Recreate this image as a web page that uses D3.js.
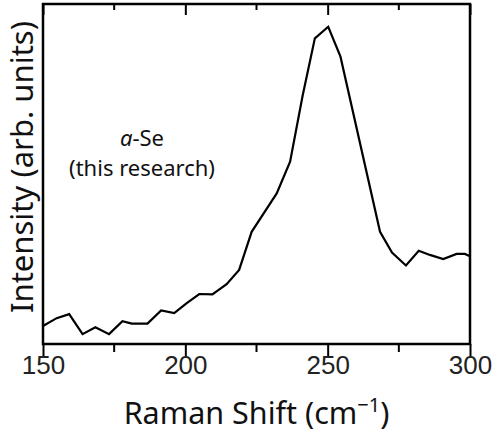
<!DOCTYPE html>
<html>
<head>
<meta charset="utf-8">
<script src="https://cdn.jsdelivr.net/npm/d3@7"></script>
<style>
  body { margin: 0; background: #fff; }
  svg { display: block; }
</style>
</head>
<body>
<div id="chart"></div>
<script>
// Raman shift (cm-1) and intensity (arb. units)
const shift = [150.0, 154.8, 159.2, 163.9, 168.4, 173.2, 177.9, 181.2, 186.7, 191.5,
               196.1, 200.5, 204.9, 209.5, 214.5, 218.9, 223.3, 232.1, 236.8, 241.2,
               245.5, 250.2, 254.5, 268.4, 272.6, 277.5, 282.0, 285.9, 290.6, 295.3,
               298.2, 299.8];
const intensity = [0.053, 0.076, 0.088, 0.029, 0.049, 0.029, 0.067, 0.060, 0.060, 0.099,
                   0.091, 0.120, 0.147, 0.146, 0.176, 0.218, 0.330, 0.443, 0.536, 0.730,
                   0.899, 0.933, 0.845, 0.330, 0.269, 0.231, 0.274, 0.262, 0.250, 0.265,
                   0.265, 0.259];
const xTicks = [150, 200, 250, 300];
const xMinorTicks = [175, 225, 275];

const data = shift.map((s, i) => ({ x: s, y: intensity[i] }));

const W = 500, H = 439;
const margin = { top: 4, right: 30, bottom: 95, left: 43 };
const width = 470 - margin.left;
const height = 344 - margin.top;

const svg = d3.select("#chart").append("svg")
    .attr("width", W)
    .attr("height", H);

const g = svg.append("g")
    .attr("transform", `translate(${margin.left},${margin.top})`);

const x = d3.scaleLinear().domain([150, 300]).range([0, width]);
const y = d3.scaleLinear().domain([0, 1]).range([height, 0]);

// bottom axis: ticks point outward
const bottomAxis = g.append("g")
    .attr("transform", `translate(0,${height})`);
bottomAxis.call(d3.axisBottom(x).tickValues(xTicks).tickSize(14).tickSizeOuter(0).tickFormat(d3.format("d")));
bottomAxis.select(".domain").remove();
bottomAxis.selectAll(".tick line").attr("stroke", "#000").attr("stroke-width", 2);
bottomAxis.selectAll(".tick text")
    .attr("y", 30)
    .attr("dy", 0)
    .style("font-family", "'Liberation Sans', Arial, sans-serif")
    .style("font-size", "26px")
    .attr("fill", "#222");

bottomAxis.selectAll(".minor")
    .data(xMinorTicks)
    .enter().append("line")
    .attr("class", "minor")
    .attr("x1", d => x(d)).attr("x2", d => x(d))
    .attr("y1", 0).attr("y2", 8)
    .attr("stroke", "#000").attr("stroke-width", 2);

// top axis: ticks point inward
const topAxis = g.append("g");
topAxis.call(d3.axisTop(x).tickValues(xTicks).tickSize(-11).tickSizeOuter(0).tickFormat(""));
topAxis.select(".domain").remove();
topAxis.selectAll(".tick line").attr("stroke", "#000").attr("stroke-width", 2);
topAxis.selectAll(".minor")
    .data(xMinorTicks)
    .enter().append("line")
    .attr("class", "minor")
    .attr("x1", d => x(d)).attr("x2", d => x(d))
    .attr("y1", 0).attr("y2", 6)
    .attr("stroke", "#000").attr("stroke-width", 2);

// frame
g.append("rect")
    .attr("width", width)
    .attr("height", height)
    .attr("fill", "none")
    .attr("stroke", "#000")
    .attr("stroke-width", 2.5);

// spectrum
const line = d3.line()
    .x(d => x(d.x))
    .y(d => y(d.y));

g.append("path")
    .datum(data)
    .attr("fill", "none")
    .attr("stroke", "#000")
    .attr("stroke-width", 2.2)
    .attr("stroke-linejoin", "miter")
    .attr("d", line);

// annotation
const note = g.append("text")
    .attr("text-anchor", "middle")
    .style("font-family", "'Noto Sans', 'Open Sans', sans-serif")
    .style("font-size", "22px")
    .attr("fill", "#111");
note.append("tspan")
    .attr("x", 142 - margin.left).attr("y", 146 - margin.top)
    .style("font-style", "italic").text("a");
note.append("tspan").text("-Se");
note.append("tspan")
    .attr("x", 142 - margin.left).attr("y", 176 - margin.top)
    .text("(this research)");

// axis labels
const xLabel = svg.append("text")
    .attr("x", margin.left + width / 2)
    .attr("y", 424)
    .attr("text-anchor", "middle")
    .style("font-family", "'Noto Sans', 'Open Sans', sans-serif")
    .style("font-size", "30.5px")
    .attr("fill", "#111");
xLabel.append("tspan").text("Raman Shift (cm");
xLabel.append("tspan").attr("dy", -12).style("font-size", "20px").text("\u22121");
xLabel.append("tspan").attr("dy", 12).text(")");

svg.append("text")
    .attr("transform", `translate(33,${margin.top + height / 2 - 7}) rotate(-90)`)
    .attr("text-anchor", "middle")
    .style("font-family", "'Noto Sans', 'Open Sans', sans-serif")
    .style("font-size", "31px")
    .attr("fill", "#111")
    .text("Intensity (arb. units)");
</script>
</body>
</html>
